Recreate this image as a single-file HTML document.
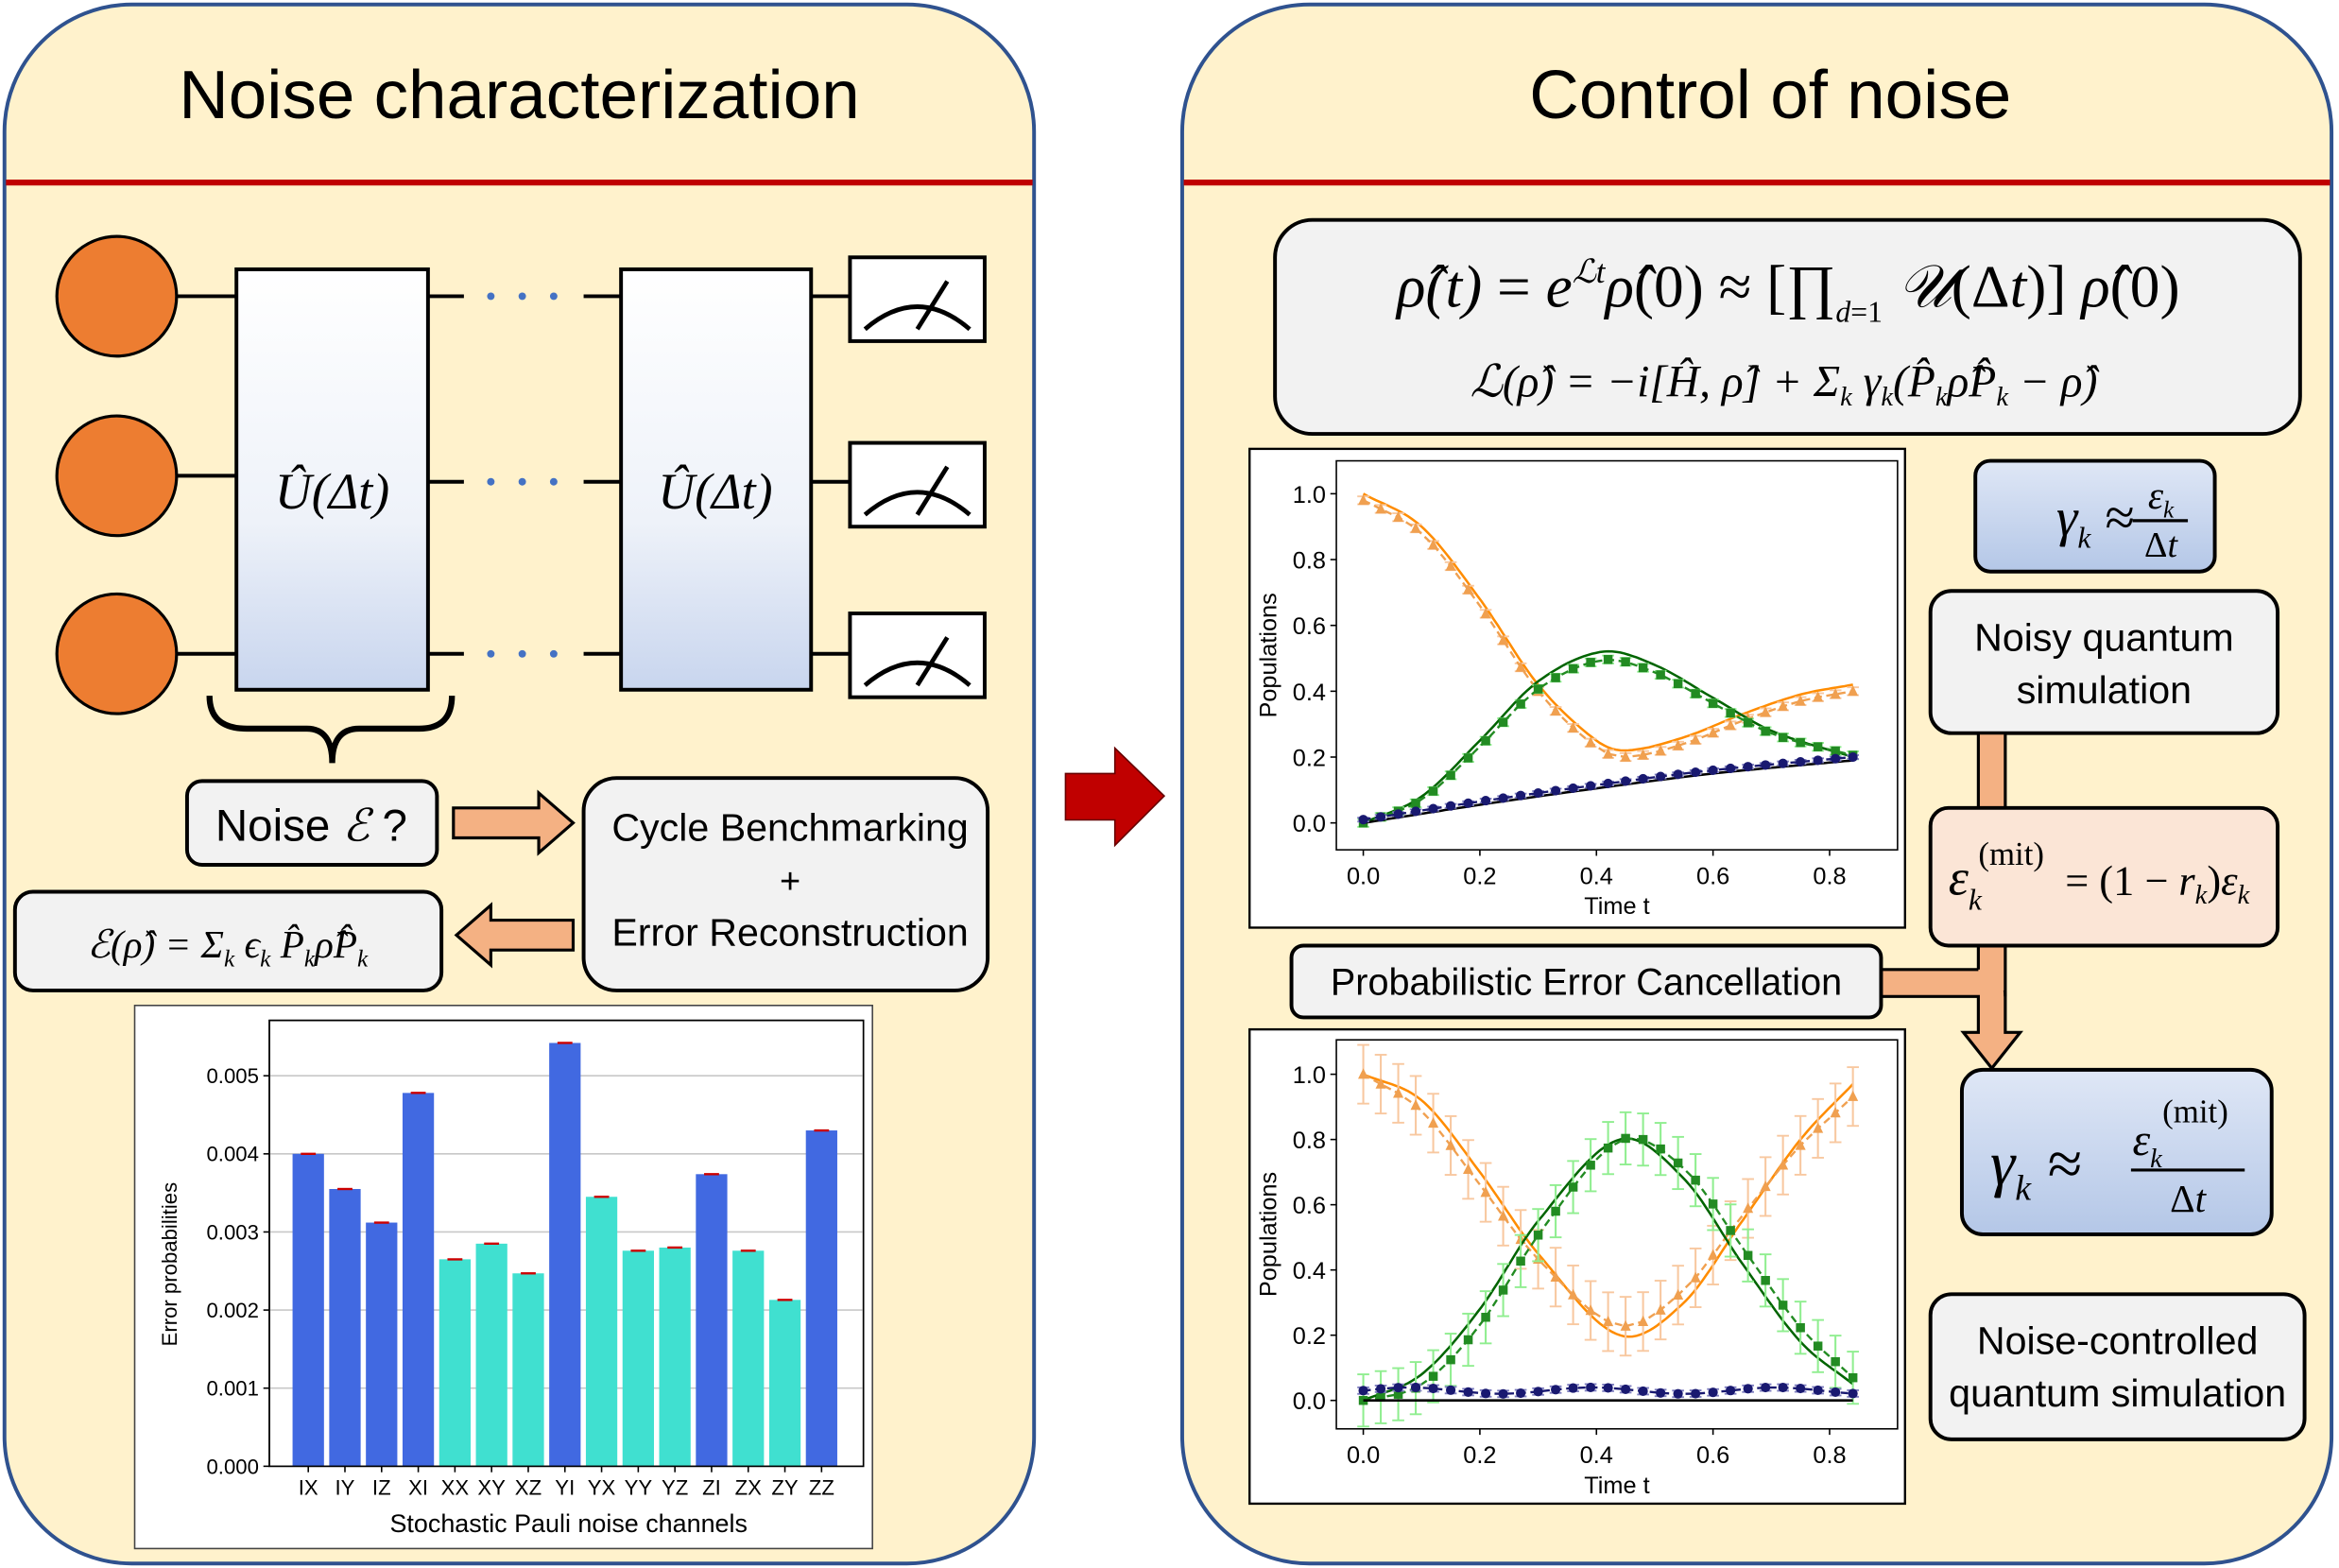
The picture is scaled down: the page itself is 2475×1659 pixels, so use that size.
<!DOCTYPE html>
<html><head><meta charset="utf-8"><style>
html,body{margin:0;padding:0;background:#fff}
svg{display:block}
text{font-family:"Liberation Sans","DejaVu Sans",sans-serif}
.m{font-family:"Liberation Serif","DejaVu Serif",serif}
</style></head><body>
<svg id="s" width="2475" height="1659" viewBox="0 0 1563 1048" preserveAspectRatio="none" xmlns="http://www.w3.org/2000/svg">
<defs>
<linearGradient id="ug" x1="0" y1="0" x2="0" y2="1"><stop offset="0" stop-color="#fff"/><stop offset="0.6" stop-color="#eef2f9"/><stop offset="1" stop-color="#c8d5ee"/></linearGradient>
<linearGradient id="bg" x1="0" y1="0" x2="0" y2="1"><stop offset="0" stop-color="#dfe7f6"/><stop offset="1" stop-color="#b4c7e7"/></linearGradient>
</defs>
<rect x="0" y="0" width="1563" height="1048" fill="#fff"/>
<!-- panels -->
<rect x="3" y="3" width="688" height="1042" rx="85" fill="#fff2cc" stroke="#2f528f" stroke-width="2.5"/>
<rect x="790" y="3" width="768" height="1042" rx="85" fill="#fff2cc" stroke="#2f528f" stroke-width="2.5"/>
<line x1="4" y1="122" x2="690" y2="122" stroke="#c00000" stroke-width="4"/>
<line x1="791" y1="122" x2="1557" y2="122" stroke="#c00000" stroke-width="4"/>
<text x="347" y="79" font-size="46" text-anchor="middle">Noise characterization</text>
<text x="1183" y="79" font-size="46" text-anchor="middle">Control of noise</text>
<!-- red arrow -->
<polygon points="712,517 745,517 745,500 778,532 745,565 745,548 712,548" fill="#c00000" stroke="#600" stroke-width="1"/>
<!-- circuit -->
<g stroke="#000" stroke-width="2.5">
<line x1="118" y1="198" x2="158" y2="198"/><line x1="118" y1="318" x2="158" y2="318"/><line x1="118" y1="437" x2="158" y2="437"/>
<line x1="286" y1="198" x2="310" y2="198"/><line x1="286" y1="322" x2="310" y2="322"/><line x1="286" y1="437" x2="310" y2="437"/>
<line x1="390" y1="198" x2="415" y2="198"/><line x1="390" y1="322" x2="415" y2="322"/><line x1="390" y1="437" x2="415" y2="437"/>
<line x1="542" y1="198" x2="568" y2="198"/><line x1="542" y1="322" x2="568" y2="322"/><line x1="542" y1="437" x2="568" y2="437"/>
</g>
<g fill="#ed7d31" stroke="#000" stroke-width="2"><circle cx="78" cy="198" r="40"/><circle cx="78" cy="318" r="40"/><circle cx="78" cy="437" r="40"/></g>
<g fill="#4472c4">
<circle cx="328" cy="198" r="2.5"/><circle cx="349" cy="198" r="2.5"/><circle cx="370" cy="198" r="2.5"/>
<circle cx="328" cy="322" r="2.5"/><circle cx="349" cy="322" r="2.5"/><circle cx="370" cy="322" r="2.5"/>
<circle cx="328" cy="437" r="2.5"/><circle cx="349" cy="437" r="2.5"/><circle cx="370" cy="437" r="2.5"/>
</g>
<rect x="158" y="180" width="128" height="281" fill="url(#ug)" stroke="#000" stroke-width="2.5"/>
<rect x="415" y="180" width="127" height="281" fill="url(#ug)" stroke="#000" stroke-width="2.5"/>
<text x="222" y="340" font-size="34" text-anchor="middle" class="m" font-style="italic">Û(Δt)</text>
<text x="478" y="340" font-size="34" text-anchor="middle" class="m" font-style="italic">Û(Δt)</text>
<g fill="#fff" stroke="#000" stroke-width="2.5">
<rect x="568" y="172" width="90" height="56"/><rect x="568" y="296" width="90" height="56"/><rect x="568" y="410" width="90" height="56"/>
</g>
<g fill="none" stroke="#000" stroke-width="3">
<path d="M578,220 Q613,190 648,220"/><line x1="613" y1="220" x2="633" y2="188"/>
<path d="M578,344 Q613,314 648,344"/><line x1="613" y1="344" x2="633" y2="312"/>
<path d="M578,458 Q613,428 648,458"/><line x1="613" y1="458" x2="633" y2="426"/>
<path d="M140,465 Q140,487 165,487 L205,487 Q222,487 222,510 Q222,487 240,487 L280,487 Q302,487 302,465" stroke-width="4"/>
</g>
<!-- noise boxes -->
<rect x="125" y="522" width="167" height="56" rx="10" fill="#f2f2f2" stroke="#000" stroke-width="2.5"/>
<text x="208" y="562" font-size="30" text-anchor="middle">Noise <tspan class="m" font-style="italic">ℰ</tspan> ?</text>
<rect x="390" y="520" width="270" height="142" rx="22" fill="#f2f2f2" stroke="#000" stroke-width="2.5"/>
<text x="528" y="562" font-size="26" text-anchor="middle">Cycle Benchmarking</text>
<text x="528" y="597" font-size="24" text-anchor="middle">+</text>
<text x="528" y="632" font-size="26" text-anchor="middle">Error Reconstruction</text>
<rect x="10" y="596" width="285" height="66" rx="12" fill="#f2f2f2" stroke="#000" stroke-width="2.5"/>
<text x="152" y="640" font-size="26" text-anchor="middle" class="m" font-style="italic">ℰ(ρ̂) = Σ<tspan font-size="16" dy="6">k</tspan><tspan dy="-6"> ϵ</tspan><tspan font-size="16" dy="6">k</tspan><tspan dy="-6"> P̂</tspan><tspan font-size="16" dy="6">k</tspan><tspan dy="-6">ρ̂P̂</tspan><tspan font-size="16" dy="6">k</tspan></text>
<polygon points="303,540 360,540 360,530 383,550 360,570 360,560 303,560" fill="#f4b183" stroke="#000" stroke-width="2"/>
<polygon points="383,615 328,615 328,605 305,625 328,645 328,635 383,635" fill="#f4b183" stroke="#000" stroke-width="2"/>
<!-- bar chart -->
<rect x="90" y="672" width="493" height="363" fill="#fff" stroke="#444" stroke-width="1"/>
<g id="bars"></g>
<text transform="translate(118,845) rotate(-90)" font-size="14" text-anchor="middle">Error probabilities</text>
<text x="380" y="1024" font-size="17" text-anchor="middle">Stochastic Pauli noise channels</text>
<!-- right formula -->
<rect x="852" y="147" width="685" height="143" rx="25" fill="#f2f2f2" stroke="#000" stroke-width="2.5"/>
<text x="1195" y="205" font-size="40" text-anchor="middle" class="m"><tspan font-style="italic">ρ̂(t)</tspan> = <tspan font-style="italic">e</tspan><tspan font-size="22" dy="-16" font-style="italic">ℒt</tspan><tspan dy="16" font-style="italic">ρ̂</tspan>(0) ≈ [∏<tspan font-size="20" dy="10" font-style="italic">d</tspan><tspan font-size="20">=1</tspan><tspan dy="-10"> </tspan><tspan font-style="italic">𝒰</tspan>(Δ<tspan font-style="italic">t</tspan>)] <tspan font-style="italic">ρ̂</tspan>(0)</text>
<text x="1192" y="265" font-size="30" text-anchor="middle" class="m" font-style="italic">ℒ(ρ̂) = −i[Ĥ, ρ̂] + Σ<tspan font-size="18" dy="6">k</tspan><tspan dy="-6"> γ</tspan><tspan font-size="18" dy="6">k</tspan><tspan dy="-6">(P̂</tspan><tspan font-size="18" dy="6">k</tspan><tspan dy="-6">ρ̂P̂</tspan><tspan font-size="18" dy="6">k</tspan><tspan dy="-6"> − ρ̂)</tspan></text>
<!-- plots -->
<rect x="835" y="300" width="438" height="320" fill="#fff" stroke="#000" stroke-width="1.5"/>
<rect x="835" y="688" width="438" height="317" fill="#fff" stroke="#000" stroke-width="1.5"/>
<g id="p1"></g><g id="p2"></g>
<!-- right boxes -->
<rect x="1320" y="308" width="160" height="74" rx="10" fill="url(#bg)" stroke="#000" stroke-width="2.5"/>
<text x="1400" y="358" font-size="36" text-anchor="middle" class="m" font-style="italic">γ<tspan font-size="20" dy="8">k</tspan><tspan dy="-8"> ≈ </tspan></text>
<text x="1444" y="340" font-size="26" text-anchor="middle" class="m" font-style="italic">ε<tspan font-size="16" dy="6">k</tspan></text>
<line x1="1425" y1="348" x2="1462" y2="348" stroke="#000" stroke-width="2"/>
<text x="1444" y="372" font-size="24" text-anchor="middle" class="m">Δ<tspan font-style="italic">t</tspan></text>
<rect x="1290" y="395" width="232" height="95" rx="14" fill="#f2f2f2" stroke="#000" stroke-width="2.5"/>
<text x="1406" y="435" font-size="26" text-anchor="middle">Noisy quantum</text>
<text x="1406" y="470" font-size="26" text-anchor="middle">simulation</text>
<!-- orange connectors -->
<rect x="1322" y="490" width="18" height="50" fill="#f4b183" stroke="#000" stroke-width="2"/>
<path d="M1257,648 L1322,648 Q1340,648 1340,666 L1340,690 L1350,690 L1331,714 L1312,690 L1322,690 L1322,666 L1257,666 Z" fill="#f4b183" stroke="#000" stroke-width="2"/>
<rect x="1322" y="632" width="18" height="30" fill="#f4b183" stroke="none"/>
<line x1="1322" y1="632" x2="1322" y2="648" stroke="#000" stroke-width="2"/><line x1="1340" y1="632" x2="1340" y2="666" stroke="#000" stroke-width="2"/>
<rect x="1290" y="540" width="232" height="92" rx="12" fill="#fbe5d6" stroke="#000" stroke-width="2.5"/>
<text x="1302" y="598" font-size="34" class="m" font-style="italic">ε<tspan font-size="20" dy="10">k</tspan></text>
<text x="1322" y="578" font-size="22" class="m">(mit)</text>
<text x="1380" y="598" font-size="28" class="m">= (1 − <tspan font-style="italic">r</tspan><tspan font-size="18" dy="6" font-style="italic">k</tspan><tspan dy="-6">)</tspan><tspan font-style="italic">ε</tspan><tspan font-size="18" dy="6" font-style="italic">k</tspan></text>
<rect x="863" y="632" width="394" height="48" rx="8" fill="#f2f2f2" stroke="#000" stroke-width="2.5"/>
<text x="1060" y="665" font-size="25" text-anchor="middle">Probabilistic Error Cancellation</text>
<rect x="1311" y="715" width="207" height="110" rx="14" fill="url(#bg)" stroke="#000" stroke-width="2.5"/>
<text x="1330" y="792" font-size="42" class="m" font-style="italic">γ<tspan font-size="24" dy="10">k</tspan><tspan dy="-10"> ≈</tspan></text>
<text x="1425" y="772" font-size="30" class="m" font-style="italic">ε<tspan font-size="18" dy="8">k</tspan></text>
<text x="1445" y="750" font-size="22" class="m">(mit)</text>
<line x1="1424" y1="782" x2="1500" y2="782" stroke="#000" stroke-width="2"/>
<text x="1462" y="810" font-size="26" text-anchor="middle" class="m">Δ<tspan font-style="italic">t</tspan></text>
<rect x="1290" y="865" width="250" height="97" rx="14" fill="#f2f2f2" stroke="#000" stroke-width="2.5"/>
<text x="1415" y="905" font-size="26" text-anchor="middle">Noise-controlled</text>
<text x="1415" y="940" font-size="26" text-anchor="middle">quantum simulation</text>
</svg>
<script>
var NS="http://www.w3.org/2000/svg";
function el(p,t,a,txt){var e=document.createElementNS(NS,t);for(var k in a)e.setAttribute(k,a[k]);if(txt!=null)e.textContent=txt;p.appendChild(e);return e;}
// bars
(function(){var g=document.getElementById('bars');var x0=180,x1=577,y0=980,yt=682,s=52.2;
el(g,'rect',{x:x0,y:yt,width:x1-x0,height:y0-yt,fill:'#fff',stroke:'#000','stroke-width':1});
for(var i=0;i<=5;i++){var y=y0-i*s;el(g,'line',{x1:x0,y1:y,x2:x1,y2:y,stroke:'#c8c8c8','stroke-width':1});el(g,'line',{x1:x0-4,y1:y,x2:x0,y2:y,stroke:'#000'});el(g,'text',{x:x0-7,y:y+5,'font-size':14,'text-anchor':'end'},(i*0.001).toFixed(3));}
var L=['IX','IY','IZ','XI','XX','XY','XZ','YI','YX','YY','YZ','ZI','ZX','ZY','ZZ'];
var V=[4.0,3.55,3.12,4.78,2.65,2.85,2.47,5.42,3.45,2.76,2.80,3.74,2.76,2.13,4.30];
var B='#4169e1',T='#40e0d0';var C=[B,B,B,B,T,T,T,B,T,T,T,B,T,T,B];
for(var i=0;i<15;i++){var cx=206+i*24.5,h=V[i]*s;el(g,'rect',{x:cx-10.5,y:y0-h,width:21,height:h,fill:C[i]});el(g,'line',{x1:cx-5,y1:y0-h,x2:cx+5,y2:y0-h,stroke:'#c00','stroke-width':1.5});
el(g,'line',{x1:cx,y1:y0,x2:cx,y2:y0+4,stroke:'#000'});el(g,'text',{x:cx,y:y0+19,'font-size':14,'text-anchor':'middle'},L[i]);}
el(g,'rect',{x:x0,y:yt,width:x1-x0,height:y0-yt,fill:'none',stroke:'#000','stroke-width':1});})();
// interpolation
function interp(P,t){for(var i=0;i<P.length-1;i++){if(t<=P[i+1][0]){var p0=P[Math.max(i-1,0)],p1=P[i],p2=P[i+1],p3=P[Math.min(i+2,P.length-1)];var u=(t-p1[0])/(p2[0]-p1[0]);var m1=(p2[1]-p0[1])/(p2[0]-p0[0]||1)*(p2[0]-p1[0]),m2=(p3[1]-p1[1])/(p3[0]-p1[0]||1)*(p2[0]-p1[0]);var u2=u*u,u3=u2*u;return (2*u3-3*u2+1)*p1[1]+(u3-2*u2+u)*m1+(-2*u3+3*u2)*p2[1]+(u3-u2)*m2;}}return P[P.length-1][1];}
function plot(id,ax,ay,ox,oy,sx,sy,curves,err){var g=document.getElementById(id);
el(g,'rect',{x:ax,y:ay[0],width:1268-ax,height:ay[1]-ay[0],fill:'#fff',stroke:'#000','stroke-width':1});
for(var i=0;i<=5;i++){var v=i*0.2,y=oy-v*sy;el(g,'line',{x1:ax-4,y1:y,x2:ax,y2:y,stroke:'#000'});el(g,'text',{x:ax-7,y:y+6,'font-size':16,'text-anchor':'end'},v.toFixed(1));}
for(var i=0;i<=4;i++){var v=i*0.2,x=ox+v*sx;el(g,'line',{x1:x,y1:ay[1],x2:x,y2:ay[1]+4,stroke:'#000'});el(g,'text',{x:x,y:ay[1]+23,'font-size':16,'text-anchor':'middle'},v.toFixed(1));}
el(g,'text',{x:(ax+1268)/2,y:ay[1]+43,'font-size':16,'text-anchor':'middle'},'Time t');
el(g,'text',{transform:'translate('+(ax-40)+','+((ay[0]+ay[1])/2)+') rotate(-90)','font-size':16,'text-anchor':'middle'},'Populations');
curves.forEach(function(c){var d='';for(var k=0;k<=120;k++){var t=k/120*0.84;d+=(k?'L':'M')+(ox+t*sx).toFixed(1)+','+(oy-interp(c.P,t)*sy).toFixed(1);}
el(g,'path',{d:d,fill:'none',stroke:c.line,'stroke-width':1.6});
var d2='';for(var k=0;k<=28;k++){var t=k*0.03;var v=interp(c.P,t)+c.off(t);var x=ox+t*sx,y=oy-v*sy;d2+=(k?'L':'M')+x.toFixed(1)+','+y.toFixed(1);
var e=c.err(t)*sy;el(g,'line',{x1:x,y1:y-e,x2:x,y2:y+e,stroke:c.ec,'stroke-width':1.3});el(g,'line',{x1:x-4,y1:y-e,x2:x+4,y2:y-e,stroke:c.ec,'stroke-width':1.2});el(g,'line',{x1:x-4,y1:y+e,x2:x+4,y2:y+e,stroke:c.ec,'stroke-width':1.2});}
el(g,'path',{d:d2,fill:'none',stroke:c.dc,'stroke-width':1.5,'stroke-dasharray':'5,3'});
for(var k=0;k<=28;k++){var t=k*0.03;var v=interp(c.P,t)+c.off(t);var x=ox+t*sx,y=oy-v*sy;
if(c.mk=='s')el(g,'rect',{x:x-3,y:y-3,width:6,height:6,fill:c.dc});else if(c.mk=='t')el(g,'polygon',{points:(x-3.5)+','+(y+3)+' '+(x+3.5)+','+(y+3)+' '+x+','+(y-4),fill:c.dc});else el(g,'circle',{cx:x,cy:y,r:3.2,fill:c.dc});}});}
var O1=[[0,1],[0.1,0.9],[0.2,0.68],[0.3,0.42],[0.4,0.25],[0.45,0.22],[0.55,0.26],[0.65,0.33],[0.75,0.39],[0.84,0.42]];
var G1=[[0,0],[0.1,0.08],[0.2,0.25],[0.3,0.43],[0.41,0.52],[0.5,0.48],[0.6,0.38],[0.7,0.28],[0.84,0.2]];
var K1=[[0,0],[0.2,0.055],[0.4,0.105],[0.6,0.15],[0.84,0.19]];
plot('p1',893,[308,568],911,550,389.5,220,[
{P:O1,line:'#ff8c00',dc:'#f0a050',ec:'#f8c8a0',mk:'t',off:function(t){return -0.02;},err:function(){return 0.012;}},
{P:G1,line:'#006400',dc:'#228b22',ec:'#90ee90',mk:'s',off:function(t){return -0.025*Math.sin(t*4);},err:function(){return 0.012;}},
{P:K1,line:'#000',dc:'#191970',ec:'#8080c0',mk:'c',off:function(t){return 0.01;},err:function(){return 0.006;}}],0);
var O2=[[0,1],[0.1,0.92],[0.2,0.7],[0.3,0.45],[0.44,0.2],[0.55,0.3],[0.65,0.55],[0.75,0.8],[0.84,0.97]];
var G2=[[0,0],[0.1,0.08],[0.2,0.28],[0.3,0.55],[0.44,0.8],[0.55,0.68],[0.65,0.42],[0.75,0.18],[0.84,0.05]];
var K2=[[0,0],[0.84,0.0]];
plot('p2',893,[695,955],911,936,389.5,218,[
{P:O2,line:'#ff8c00',dc:'#f0a050',ec:'#f8c8a0',mk:'t',off:function(t){return -0.04*Math.sin(t*9);},err:function(){return 0.09;}},
{P:G2,line:'#006400',dc:'#228b22',ec:'#90ee90',mk:'s',off:function(t){return -0.05*Math.sin(t*7);},err:function(){return 0.08;}},
{P:K2,line:'#000',dc:'#191970',ec:'#8080c0',mk:'c',off:function(t){return 0.03+0.01*Math.sin(t*20);},err:function(){return 0.01;}}],1);
</script>
</body></html>
